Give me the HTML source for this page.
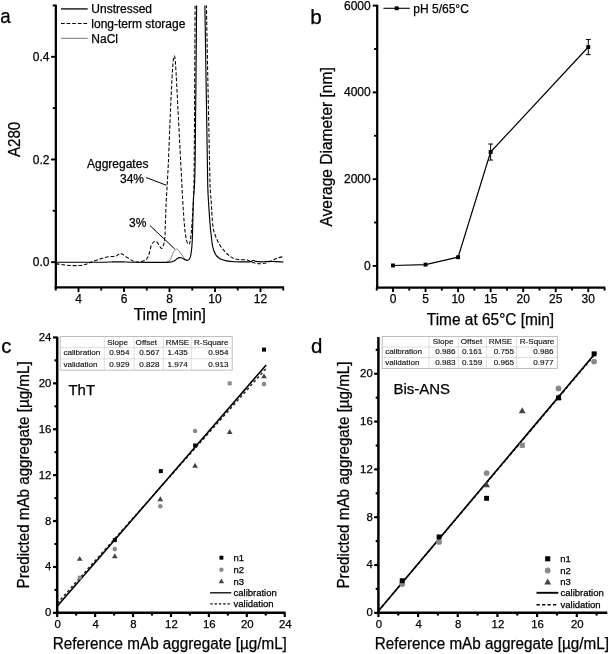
<!DOCTYPE html>
<html lang="en"><head><meta charset="utf-8"><title>Figure</title>
<style>html,body{margin:0;padding:0;background:#fff;}svg{display:block;font-family:'Liberation Sans', Arial, sans-serif;}</style>
</head><body>
<svg width="609" height="654" viewBox="0 0 609 654">
<rect width="609" height="654" fill="#fff"/>
<g id="panel-a">
<clipPath id="clipa"><rect x="55.85" y="5.6" width="230.15" height="282.6"/></clipPath>
<text x="0.3" y="23.3" font-size="20.5" text-anchor="start" fill="#000" stroke="#000" stroke-width="0.25" textLength="10.4" lengthAdjust="spacingAndGlyphs">a</text>
<path d="M56.0,263.7 C57.2,263.9 60.3,264.5 63.0,264.8 C65.7,265.1 69.2,265.5 72.0,265.6 C74.8,265.7 77.7,265.6 80.0,265.4 C82.3,265.2 84.2,264.8 86.0,264.3 C87.8,263.8 89.2,262.9 91.0,262.2 C92.8,261.5 94.8,260.7 97.0,260.0 C99.2,259.3 101.8,258.4 104.0,257.8 C106.2,257.2 108.2,256.8 110.0,256.6 C111.8,256.4 113.7,256.7 115.0,256.4 C116.3,256.1 117.1,255.3 118.0,254.8 C118.9,254.3 119.5,253.4 120.3,253.4 C121.1,253.4 121.7,253.8 123.0,254.6 C124.3,255.4 126.3,256.9 128.0,258.0 C129.7,259.1 131.5,260.3 133.0,261.0 C134.5,261.7 135.7,261.9 137.0,262.0 C138.3,262.1 139.7,261.9 141.0,261.6 C142.3,261.3 143.9,260.9 145.0,260.3 C146.1,259.7 146.8,259.1 147.5,257.8 C148.2,256.5 148.9,254.5 149.5,252.5 C150.1,250.5 150.5,247.7 151.1,246.0 C151.7,244.3 152.3,243.3 153.0,242.5 C153.7,241.7 154.2,241.4 155.0,241.4 C155.8,241.4 156.8,241.8 157.5,242.6 C158.2,243.4 158.8,245.0 159.5,246.0 C160.2,247.0 160.9,248.4 161.5,248.4 C162.1,248.4 162.6,247.8 163.2,246.0 C163.8,244.2 164.4,242.1 164.8,237.8 C165.2,233.5 165.2,226.3 165.5,220.0 C165.8,213.7 165.8,209.3 166.3,200.0 C166.8,190.7 167.6,179.0 168.3,164.0 C169.0,149.0 169.8,125.7 170.5,110.0 C171.2,94.3 171.9,78.9 172.5,70.0 C173.1,61.1 173.5,57.4 174.0,56.4 C174.5,55.4 174.8,55.1 175.5,64.0 C176.2,72.9 177.1,93.3 178.0,110.0 C178.9,126.7 180.0,149.0 180.8,164.0 C181.6,179.0 182.1,189.7 182.7,200.0 C183.3,210.3 183.9,219.3 184.5,226.0 C185.1,232.7 185.8,236.9 186.5,240.0 C187.2,243.1 187.8,244.0 188.4,244.3 C189.0,244.6 189.5,244.4 190.0,242.0 C190.5,239.6 190.9,237.0 191.5,230.0 C192.1,223.0 193.0,211.0 193.4,200.0 C193.8,189.0 193.9,196.5 194.2,164.0 C194.5,131.5 194.9,39.0 195.1,5.0 C195.3,-29.0 195.5,-32.5 195.6,-40.0" fill="none" stroke="#000" stroke-width="1.05" stroke-dasharray="3.7 1.9" clip-path="url(#clipa)"/>
<path d="M206.0,-40.0 C206.1,-32.5 205.8,-29.0 206.4,5.0 C207.0,39.0 208.9,133.2 209.6,164.0 C210.2,194.8 210.0,183.7 210.3,190.0 C210.6,196.3 210.8,195.5 211.2,201.6 C211.6,207.7 212.1,220.5 213.0,226.7 C213.9,232.9 215.4,235.7 216.7,238.9 C217.9,242.1 219.2,244.0 220.5,246.0 C221.8,248.0 223.2,249.5 224.6,251.1 C226.0,252.7 227.5,254.3 229.0,255.5 C230.5,256.7 232.0,257.8 233.8,258.5 C235.6,259.2 237.8,259.4 240.0,259.6 C242.2,259.8 245.1,259.5 247.2,259.9 C249.2,260.3 250.4,261.6 252.3,262.2 C254.2,262.8 256.2,263.6 258.5,263.7 C260.8,263.8 263.7,263.5 266.0,263.0 C268.3,262.5 270.4,261.3 272.3,260.5 C274.2,259.7 275.6,258.6 277.3,258.0 C279.1,257.4 281.9,256.9 282.8,256.7" fill="none" stroke="#000" stroke-width="1.05" stroke-dasharray="3.7 1.9" clip-path="url(#clipa)"/>
<path d="M167.0,261.6 C167.4,261.4 168.8,261.3 169.6,260.5 C170.3,259.7 170.8,258.4 171.5,257.0 C172.2,255.6 172.7,253.3 173.5,252.0 C174.3,250.7 175.6,249.2 176.5,249.0 C177.4,248.8 178.2,250.1 179.0,251.0 C179.8,251.9 180.6,253.3 181.5,254.5 C182.4,255.7 183.5,257.4 184.3,258.3 C185.1,259.2 186.1,259.7 186.5,260.0" fill="none" stroke="#555" stroke-width="0.7"/>
<path d="M56.0,262.2 C63.3,262.2 90.7,262.2 100.0,262.2 C109.3,262.1 108.3,261.9 112.0,261.9 C115.7,261.8 118.2,261.8 122.0,261.9 C125.8,262.0 128.7,262.2 135.0,262.3 C141.3,262.4 154.2,262.4 160.0,262.4 C165.8,262.4 167.7,262.3 170.0,262.1 C172.3,261.9 172.8,261.6 174.0,261.0 C175.2,260.4 176.1,259.4 177.0,258.8 C177.9,258.2 178.6,257.7 179.4,257.6 C180.2,257.5 181.1,257.7 182.0,258.0 C182.9,258.3 184.1,259.2 185.0,259.6 C185.9,260.0 186.8,260.4 187.6,260.3 C188.3,260.2 188.9,260.1 189.5,259.0 C190.1,257.9 190.5,257.2 191.0,254.0 C191.5,250.8 191.9,249.0 192.3,240.0 C192.7,231.0 192.9,212.7 193.4,200.0 C193.9,187.3 194.6,196.5 195.1,164.0 C195.6,131.5 196.3,39.0 196.6,5.0 C196.9,-29.0 196.9,-32.5 197.0,-40.0" fill="none" stroke="#000" stroke-width="1.15" clip-path="url(#clipa)"/>
<path d="M204.5,-40.0 C204.6,-32.5 204.4,-29.0 204.9,5.0 C205.4,39.0 206.9,133.2 207.4,164.0 C207.9,194.8 207.6,181.7 207.9,190.0 C208.2,198.3 208.9,207.9 209.3,214.0 C209.7,220.1 209.8,221.5 210.3,226.7 C210.8,231.9 211.8,240.9 212.4,245.0 C213.1,249.1 213.5,249.7 214.2,251.5 C214.9,253.3 215.6,254.8 216.7,256.0 C217.8,257.2 218.9,258.2 220.5,259.0 C222.1,259.8 224.1,260.4 226.5,260.9 C228.9,261.4 231.6,261.6 234.7,261.8 C237.8,262.0 242.3,261.9 245.0,261.9 C247.7,261.9 249.6,261.9 251.0,261.6 C252.4,261.3 252.5,260.2 253.3,260.2 C254.1,260.2 254.6,261.1 256.0,261.4 C257.4,261.7 259.7,261.8 262.0,261.8 C264.3,261.8 267.5,261.3 269.8,261.3 C272.1,261.3 273.7,261.5 276.0,261.6 C278.3,261.7 282.3,261.9 283.6,262.0" fill="none" stroke="#000" stroke-width="1.15" clip-path="url(#clipa)"/>
<line x1="146.00" y1="177.50" x2="166.50" y2="185.30" stroke="#000" stroke-width="1.0"/>
<line x1="149.90" y1="225.50" x2="174.80" y2="249.00" stroke="#000" stroke-width="1.0"/>
<text x="87" y="168" font-size="12" text-anchor="start" fill="#000" stroke="#000" stroke-width="0.25">Aggregates</text>
<text x="120" y="182.8" font-size="12" text-anchor="start" fill="#000" stroke="#000" stroke-width="0.25">34%</text>
<text x="129" y="226.5" font-size="12" text-anchor="start" fill="#000" stroke="#000" stroke-width="0.25">3%</text>
<line x1="55.85" y1="4.70" x2="55.85" y2="288.40" stroke="#000" stroke-width="2.25"/>
<line x1="54.75" y1="287.30" x2="284.00" y2="287.30" stroke="#000" stroke-width="2.25"/>
<line x1="55.75" y1="287.30" x2="55.75" y2="290.50" stroke="#000" stroke-width="1.9"/>
<line x1="78.50" y1="287.30" x2="78.50" y2="292.10" stroke="#000" stroke-width="1.9"/>
<text x="78.5" y="303" font-size="12" text-anchor="middle" fill="#000" stroke="#000" stroke-width="0.25">4</text>
<line x1="101.25" y1="287.30" x2="101.25" y2="290.50" stroke="#000" stroke-width="1.9"/>
<line x1="124.00" y1="287.30" x2="124.00" y2="292.10" stroke="#000" stroke-width="1.9"/>
<text x="124.0" y="303" font-size="12" text-anchor="middle" fill="#000" stroke="#000" stroke-width="0.25">6</text>
<line x1="146.75" y1="287.30" x2="146.75" y2="290.50" stroke="#000" stroke-width="1.9"/>
<line x1="169.50" y1="287.30" x2="169.50" y2="292.10" stroke="#000" stroke-width="1.9"/>
<text x="169.5" y="303" font-size="12" text-anchor="middle" fill="#000" stroke="#000" stroke-width="0.25">8</text>
<line x1="192.25" y1="287.30" x2="192.25" y2="290.50" stroke="#000" stroke-width="1.9"/>
<line x1="215.00" y1="287.30" x2="215.00" y2="292.10" stroke="#000" stroke-width="1.9"/>
<text x="215.0" y="303" font-size="12" text-anchor="middle" fill="#000" stroke="#000" stroke-width="0.25">10</text>
<line x1="237.75" y1="287.30" x2="237.75" y2="290.50" stroke="#000" stroke-width="1.9"/>
<line x1="260.50" y1="287.30" x2="260.50" y2="292.10" stroke="#000" stroke-width="1.9"/>
<text x="260.5" y="303" font-size="12" text-anchor="middle" fill="#000" stroke="#000" stroke-width="0.25">12</text>
<line x1="283.25" y1="287.30" x2="283.25" y2="290.50" stroke="#000" stroke-width="1.9"/>
<line x1="51.05" y1="262.15" x2="55.85" y2="262.15" stroke="#000" stroke-width="1.9"/>
<text x="49.45" y="266.25" font-size="12" text-anchor="end" fill="#000" stroke="#000" stroke-width="0.25">0.0</text>
<line x1="52.75" y1="210.81" x2="55.85" y2="210.81" stroke="#000" stroke-width="1.9"/>
<line x1="51.05" y1="159.47" x2="55.85" y2="159.47" stroke="#000" stroke-width="1.9"/>
<text x="49.45" y="163.56999999999996" font-size="12" text-anchor="end" fill="#000" stroke="#000" stroke-width="0.25">0.2</text>
<line x1="52.75" y1="108.13" x2="55.85" y2="108.13" stroke="#000" stroke-width="1.9"/>
<line x1="51.05" y1="56.79" x2="55.85" y2="56.79" stroke="#000" stroke-width="1.9"/>
<text x="49.45" y="60.889999999999965" font-size="12" text-anchor="end" fill="#000" stroke="#000" stroke-width="0.25">0.4</text>
<line x1="52.75" y1="5.45" x2="55.85" y2="5.45" stroke="#000" stroke-width="1.9"/>
<text x="20.2" y="139.4" font-size="16" text-anchor="middle" fill="#000" stroke="#000" stroke-width="0.25" transform="rotate(-90 20.2 139.4)" textLength="35.4" lengthAdjust="spacingAndGlyphs">A280</text>
<text x="169.8" y="319.6" font-size="16" text-anchor="middle" fill="#000" stroke="#000" stroke-width="0.25" textLength="72.3" lengthAdjust="spacingAndGlyphs">Time [min]</text>
<line x1="61.00" y1="8.90" x2="87.70" y2="8.90" stroke="#333" stroke-width="1.6"/>
<line x1="61.00" y1="23.50" x2="87.70" y2="23.50" stroke="#000" stroke-width="1.2" stroke-dasharray="3.7 1.9"/>
<line x1="61.00" y1="38.30" x2="87.70" y2="38.30" stroke="#777" stroke-width="1.0"/>
<text x="91.3" y="13" font-size="12" text-anchor="start" fill="#000" stroke="#000" stroke-width="0.25">Unstressed</text>
<text x="91.3" y="28" font-size="12" text-anchor="start" fill="#000" stroke="#000" stroke-width="0.25">long-term storage</text>
<text x="91.3" y="42.5" font-size="12" text-anchor="start" fill="#000" stroke="#000" stroke-width="0.25">NaCl</text>
</g>
<g id="panel-b">
<text x="310.3" y="23.5" font-size="20.7" text-anchor="start" fill="#000" stroke="#000" stroke-width="0.25">b</text>
<polyline points="393.0,265.5 425.6,264.6 458.1,257.2 490.6,152.0 588.3,47.0" fill="none" stroke="#000" stroke-width="1.2" stroke-linejoin="round"/>
<line x1="490.65" y1="160.05" x2="490.65" y2="144.00" stroke="#000" stroke-width="1.0"/>
<line x1="488.25" y1="160.05" x2="493.05" y2="160.05" stroke="#000" stroke-width="1.0"/>
<line x1="488.25" y1="144.00" x2="493.05" y2="144.00" stroke="#000" stroke-width="1.0"/>
<line x1="588.30" y1="54.64" x2="588.30" y2="39.46" stroke="#000" stroke-width="1.0"/>
<line x1="585.90" y1="54.64" x2="590.70" y2="54.64" stroke="#000" stroke-width="1.0"/>
<line x1="585.90" y1="39.46" x2="590.70" y2="39.46" stroke="#000" stroke-width="1.0"/>
<rect x="391.05" y="263.52" width="3.9" height="3.9" fill="#000"/>
<rect x="423.60" y="262.65" width="3.9" height="3.9" fill="#000"/>
<rect x="456.15" y="255.27" width="3.9" height="3.9" fill="#000"/>
<rect x="488.70" y="150.08" width="3.9" height="3.9" fill="#000"/>
<rect x="586.35" y="45.10" width="3.9" height="3.9" fill="#000"/>
<line x1="377.20" y1="4.70" x2="377.20" y2="288.60" stroke="#000" stroke-width="2.25"/>
<line x1="376.10" y1="287.50" x2="605.20" y2="287.50" stroke="#000" stroke-width="2.25"/>
<line x1="376.73" y1="287.50" x2="376.73" y2="290.60" stroke="#000" stroke-width="1.9"/>
<line x1="393.00" y1="287.50" x2="393.00" y2="292.10" stroke="#000" stroke-width="1.9"/>
<text x="393.0" y="303.0" font-size="12" text-anchor="middle" fill="#000" stroke="#000" stroke-width="0.25">0</text>
<line x1="409.27" y1="287.50" x2="409.27" y2="290.60" stroke="#000" stroke-width="1.9"/>
<line x1="425.55" y1="287.50" x2="425.55" y2="292.10" stroke="#000" stroke-width="1.9"/>
<text x="425.55" y="303.0" font-size="12" text-anchor="middle" fill="#000" stroke="#000" stroke-width="0.25">5</text>
<line x1="441.82" y1="287.50" x2="441.82" y2="290.60" stroke="#000" stroke-width="1.9"/>
<line x1="458.10" y1="287.50" x2="458.10" y2="292.10" stroke="#000" stroke-width="1.9"/>
<text x="458.1" y="303.0" font-size="12" text-anchor="middle" fill="#000" stroke="#000" stroke-width="0.25">10</text>
<line x1="474.38" y1="287.50" x2="474.38" y2="290.60" stroke="#000" stroke-width="1.9"/>
<line x1="490.65" y1="287.50" x2="490.65" y2="292.10" stroke="#000" stroke-width="1.9"/>
<text x="490.65" y="303.0" font-size="12" text-anchor="middle" fill="#000" stroke="#000" stroke-width="0.25">15</text>
<line x1="506.93" y1="287.50" x2="506.93" y2="290.60" stroke="#000" stroke-width="1.9"/>
<line x1="523.20" y1="287.50" x2="523.20" y2="292.10" stroke="#000" stroke-width="1.9"/>
<text x="523.2" y="303.0" font-size="12" text-anchor="middle" fill="#000" stroke="#000" stroke-width="0.25">20</text>
<line x1="539.48" y1="287.50" x2="539.48" y2="290.60" stroke="#000" stroke-width="1.9"/>
<line x1="555.75" y1="287.50" x2="555.75" y2="292.10" stroke="#000" stroke-width="1.9"/>
<text x="555.75" y="303.0" font-size="12" text-anchor="middle" fill="#000" stroke="#000" stroke-width="0.25">25</text>
<line x1="572.02" y1="287.50" x2="572.02" y2="290.60" stroke="#000" stroke-width="1.9"/>
<line x1="588.30" y1="287.50" x2="588.30" y2="292.10" stroke="#000" stroke-width="1.9"/>
<text x="588.3" y="303.0" font-size="12" text-anchor="middle" fill="#000" stroke="#000" stroke-width="0.25">30</text>
<line x1="604.58" y1="287.50" x2="604.58" y2="290.60" stroke="#000" stroke-width="1.9"/>
<line x1="372.70" y1="265.90" x2="377.20" y2="265.90" stroke="#000" stroke-width="1.9"/>
<text x="370.7" y="269.79999999999995" font-size="12" text-anchor="end" fill="#000" stroke="#000" stroke-width="0.25">0</text>
<line x1="374.10" y1="222.52" x2="377.20" y2="222.52" stroke="#000" stroke-width="1.9"/>
<line x1="372.70" y1="179.14" x2="377.20" y2="179.14" stroke="#000" stroke-width="1.9"/>
<text x="370.7" y="183.04" font-size="12" text-anchor="end" fill="#000" stroke="#000" stroke-width="0.25">2000</text>
<line x1="374.10" y1="135.76" x2="377.20" y2="135.76" stroke="#000" stroke-width="1.9"/>
<line x1="372.70" y1="92.38" x2="377.20" y2="92.38" stroke="#000" stroke-width="1.9"/>
<text x="370.7" y="96.27999999999997" font-size="12" text-anchor="end" fill="#000" stroke="#000" stroke-width="0.25">4000</text>
<line x1="374.10" y1="49.00" x2="377.20" y2="49.00" stroke="#000" stroke-width="1.9"/>
<line x1="372.70" y1="5.62" x2="377.20" y2="5.62" stroke="#000" stroke-width="1.9"/>
<text x="370.7" y="9.519999999999948" font-size="12" text-anchor="end" fill="#000" stroke="#000" stroke-width="0.25">6000</text>
<text x="332.2" y="146.9" font-size="16" text-anchor="middle" fill="#000" stroke="#000" stroke-width="0.25" transform="rotate(-90 332.2 146.9)" textLength="159.2" lengthAdjust="spacingAndGlyphs">Average Diameter [nm]</text>
<text x="490.5" y="324.7" font-size="16" text-anchor="middle" fill="#000" stroke="#000" stroke-width="0.25" textLength="127.3" lengthAdjust="spacingAndGlyphs">Time at 65°C [min]</text>
<line x1="383.40" y1="8.30" x2="409.80" y2="8.30" stroke="#000" stroke-width="1.1"/>
<rect x="394.75" y="6.35" width="3.9" height="3.9" fill="#000"/>
<text x="413.3" y="12.5" font-size="12" text-anchor="start" fill="#000" stroke="#000" stroke-width="0.25">pH 5/65°C</text>
</g>
<g id="panel-c">
<text x="1.3" y="353.1" font-size="20.3" text-anchor="start" fill="#000" stroke="#000" stroke-width="0.25">c</text>
<rect x="60.2" y="336.5" width="172.0" height="33.60000000000002" fill="#fff" stroke="#b0b0b0" stroke-width="0.8"/>
<line x1="60.20" y1="347.60" x2="232.20" y2="347.60" stroke="#c8c8c8" stroke-width="0.6"/>
<line x1="60.20" y1="358.80" x2="232.20" y2="358.80" stroke="#c8c8c8" stroke-width="0.6"/>
<line x1="104.30" y1="336.50" x2="104.30" y2="370.10" stroke="#c8c8c8" stroke-width="0.6"/>
<line x1="134.10" y1="336.50" x2="134.10" y2="370.10" stroke="#c8c8c8" stroke-width="0.6"/>
<line x1="163.30" y1="336.50" x2="163.30" y2="370.10" stroke="#c8c8c8" stroke-width="0.6"/>
<line x1="191.30" y1="336.50" x2="191.30" y2="370.10" stroke="#c8c8c8" stroke-width="0.6"/>
<text x="107.3" y="345" font-size="8.1" text-anchor="start" fill="#111" stroke="#111" stroke-width="0.15">Slope</text>
<text x="135.6" y="345" font-size="8.1" text-anchor="start" fill="#111" stroke="#111" stroke-width="0.15">Offset</text>
<text x="165.8" y="345" font-size="8.1" text-anchor="start" fill="#111" stroke="#111" stroke-width="0.15">RMSE</text>
<text x="193.9" y="345" font-size="8.1" text-anchor="start" fill="#111" stroke="#111" stroke-width="0.15">R-Square</text>
<text x="63.4" y="355.1" font-size="8.1" text-anchor="start" fill="#111" stroke="#111" stroke-width="0.15">calibration</text>
<text x="63.4" y="366.6" font-size="8.1" text-anchor="start" fill="#111" stroke="#111" stroke-width="0.15">validation</text>
<text x="129.6" y="355.1" font-size="8.1" text-anchor="end" fill="#111" stroke="#111" stroke-width="0.15">0.954</text>
<text x="159.5" y="355.1" font-size="8.1" text-anchor="end" fill="#111" stroke="#111" stroke-width="0.15">0.567</text>
<text x="187.8" y="355.1" font-size="8.1" text-anchor="end" fill="#111" stroke="#111" stroke-width="0.15">1.435</text>
<text x="228.6" y="355.1" font-size="8.1" text-anchor="end" fill="#111" stroke="#111" stroke-width="0.15">0.954</text>
<text x="129.6" y="366.6" font-size="8.1" text-anchor="end" fill="#111" stroke="#111" stroke-width="0.15">0.929</text>
<text x="159.5" y="366.6" font-size="8.1" text-anchor="end" fill="#111" stroke="#111" stroke-width="0.15">0.828</text>
<text x="187.8" y="366.6" font-size="8.1" text-anchor="end" fill="#111" stroke="#111" stroke-width="0.15">1.974</text>
<text x="228.6" y="366.6" font-size="8.1" text-anchor="end" fill="#111" stroke="#111" stroke-width="0.15">0.913</text>
<text x="68.4" y="394.7" font-size="15" text-anchor="start" fill="#000" stroke="#000" stroke-width="0.25">ThT</text>
<line x1="57.20" y1="603.35" x2="265.76" y2="368.82" stroke="#222" stroke-width="1.4" stroke-dasharray="2.7 2.4"/>
<line x1="57.20" y1="606.34" x2="266.23" y2="364.96" stroke="#000" stroke-width="1.6"/>
<rect x="227.70" y="381.40" width="4" height="4" fill="#8a8a8a"/>
<rect x="77.70" y="575.70" width="4" height="4" fill="#8a8a8a"/>
<rect x="158.80" y="469.10" width="4.0" height="4.0" fill="#000"/>
<rect x="193.10" y="443.50" width="4.0" height="4.0" fill="#000"/>
<rect x="262.00" y="347.60" width="4.0" height="4.0" fill="#000"/>
<rect x="112.80" y="538.10" width="4.0" height="4.0" fill="#000"/>
<circle cx="195.10" cy="431.00" r="2.3" fill="#8a8a8a"/>
<circle cx="264.00" cy="384.10" r="2.3" fill="#8a8a8a"/>
<circle cx="114.80" cy="549.10" r="2.3" fill="#8a8a8a"/>
<circle cx="160.30" cy="506.30" r="2.3" fill="#8a8a8a"/>
<polygon points="192.25,467.77 197.95,467.77 195.10,462.83" fill="#444"/>
<polygon points="226.85,433.97 232.55,433.97 229.70,429.03" fill="#444"/>
<polygon points="261.15,378.37 266.85,378.37 264.00,373.43" fill="#444"/>
<polygon points="76.85,560.87 82.55,560.87 79.70,555.93" fill="#444"/>
<polygon points="111.95,558.17 117.65,558.17 114.80,553.23" fill="#444"/>
<polygon points="157.45,501.27 163.15,501.27 160.30,496.33" fill="#444"/>
<line x1="57.20" y1="336.80" x2="57.20" y2="614.10" stroke="#000" stroke-width="2.5"/>
<line x1="55.95" y1="612.85" x2="285.60" y2="612.85" stroke="#000" stroke-width="2.5"/>
<line x1="57.20" y1="612.85" x2="57.20" y2="617.05" stroke="#000" stroke-width="2.2"/>
<line x1="53.00" y1="612.85" x2="57.20" y2="612.85" stroke="#000" stroke-width="2.2"/>
<text x="57.7" y="627.8" font-size="11.7" text-anchor="middle" fill="#000" stroke="#000" stroke-width="0.25" textLength="6.34" lengthAdjust="spacingAndGlyphs">0</text>
<text x="51.400000000000006" y="616.35" font-size="11.7" text-anchor="end" fill="#000" stroke="#000" stroke-width="0.25" textLength="6.34" lengthAdjust="spacingAndGlyphs">0</text>
<line x1="76.16" y1="612.85" x2="76.16" y2="615.55" stroke="#000" stroke-width="2.2"/>
<line x1="54.50" y1="589.90" x2="57.20" y2="589.90" stroke="#000" stroke-width="2.2"/>
<line x1="95.12" y1="612.85" x2="95.12" y2="617.05" stroke="#000" stroke-width="2.2"/>
<line x1="53.00" y1="566.95" x2="57.20" y2="566.95" stroke="#000" stroke-width="2.2"/>
<text x="95.62" y="627.8" font-size="11.7" text-anchor="middle" fill="#000" stroke="#000" stroke-width="0.25" textLength="6.34" lengthAdjust="spacingAndGlyphs">4</text>
<text x="51.400000000000006" y="570.45" font-size="11.7" text-anchor="end" fill="#000" stroke="#000" stroke-width="0.25" textLength="6.34" lengthAdjust="spacingAndGlyphs">4</text>
<line x1="114.08" y1="612.85" x2="114.08" y2="615.55" stroke="#000" stroke-width="2.2"/>
<line x1="54.50" y1="544.00" x2="57.20" y2="544.00" stroke="#000" stroke-width="2.2"/>
<line x1="133.04" y1="612.85" x2="133.04" y2="617.05" stroke="#000" stroke-width="2.2"/>
<line x1="53.00" y1="521.05" x2="57.20" y2="521.05" stroke="#000" stroke-width="2.2"/>
<text x="133.54000000000002" y="627.8" font-size="11.7" text-anchor="middle" fill="#000" stroke="#000" stroke-width="0.25" textLength="6.34" lengthAdjust="spacingAndGlyphs">8</text>
<text x="51.400000000000006" y="524.5500000000001" font-size="11.7" text-anchor="end" fill="#000" stroke="#000" stroke-width="0.25" textLength="6.34" lengthAdjust="spacingAndGlyphs">8</text>
<line x1="152.00" y1="612.85" x2="152.00" y2="615.55" stroke="#000" stroke-width="2.2"/>
<line x1="54.50" y1="498.10" x2="57.20" y2="498.10" stroke="#000" stroke-width="2.2"/>
<line x1="170.96" y1="612.85" x2="170.96" y2="617.05" stroke="#000" stroke-width="2.2"/>
<line x1="53.00" y1="475.15" x2="57.20" y2="475.15" stroke="#000" stroke-width="2.2"/>
<text x="171.46" y="627.8" font-size="11.7" text-anchor="middle" fill="#000" stroke="#000" stroke-width="0.25" textLength="12.68" lengthAdjust="spacingAndGlyphs">12</text>
<text x="51.400000000000006" y="478.65000000000003" font-size="11.7" text-anchor="end" fill="#000" stroke="#000" stroke-width="0.25" textLength="12.68" lengthAdjust="spacingAndGlyphs">12</text>
<line x1="189.92" y1="612.85" x2="189.92" y2="615.55" stroke="#000" stroke-width="2.2"/>
<line x1="54.50" y1="452.20" x2="57.20" y2="452.20" stroke="#000" stroke-width="2.2"/>
<line x1="208.88" y1="612.85" x2="208.88" y2="617.05" stroke="#000" stroke-width="2.2"/>
<line x1="53.00" y1="429.25" x2="57.20" y2="429.25" stroke="#000" stroke-width="2.2"/>
<text x="209.38" y="627.8" font-size="11.7" text-anchor="middle" fill="#000" stroke="#000" stroke-width="0.25" textLength="12.68" lengthAdjust="spacingAndGlyphs">16</text>
<text x="51.400000000000006" y="432.75" font-size="11.7" text-anchor="end" fill="#000" stroke="#000" stroke-width="0.25" textLength="12.68" lengthAdjust="spacingAndGlyphs">16</text>
<line x1="227.84" y1="612.85" x2="227.84" y2="615.55" stroke="#000" stroke-width="2.2"/>
<line x1="54.50" y1="406.30" x2="57.20" y2="406.30" stroke="#000" stroke-width="2.2"/>
<line x1="246.80" y1="612.85" x2="246.80" y2="617.05" stroke="#000" stroke-width="2.2"/>
<line x1="53.00" y1="383.35" x2="57.20" y2="383.35" stroke="#000" stroke-width="2.2"/>
<text x="247.3" y="627.8" font-size="11.7" text-anchor="middle" fill="#000" stroke="#000" stroke-width="0.25" textLength="12.68" lengthAdjust="spacingAndGlyphs">20</text>
<text x="51.400000000000006" y="386.85" font-size="11.7" text-anchor="end" fill="#000" stroke="#000" stroke-width="0.25" textLength="12.68" lengthAdjust="spacingAndGlyphs">20</text>
<line x1="265.76" y1="612.85" x2="265.76" y2="615.55" stroke="#000" stroke-width="2.2"/>
<line x1="54.50" y1="360.40" x2="57.20" y2="360.40" stroke="#000" stroke-width="2.2"/>
<line x1="284.72" y1="612.85" x2="284.72" y2="617.05" stroke="#000" stroke-width="2.2"/>
<line x1="53.00" y1="337.45" x2="57.20" y2="337.45" stroke="#000" stroke-width="2.2"/>
<text x="285.22" y="627.8" font-size="11.7" text-anchor="middle" fill="#000" stroke="#000" stroke-width="0.25" textLength="12.68" lengthAdjust="spacingAndGlyphs">24</text>
<text x="51.400000000000006" y="340.95000000000005" font-size="11.7" text-anchor="end" fill="#000" stroke="#000" stroke-width="0.25" textLength="12.68" lengthAdjust="spacingAndGlyphs">24</text>
<text x="28.8" y="474.9" font-size="16" text-anchor="middle" fill="#000" stroke="#000" stroke-width="0.25" transform="rotate(-90 28.8 474.9)" textLength="227.0" lengthAdjust="spacingAndGlyphs">Predicted mAb aggregate [µg/mL]</text>
<text x="169.8" y="649" font-size="16" text-anchor="middle" fill="#000" stroke="#000" stroke-width="0.25" textLength="234.1" lengthAdjust="spacingAndGlyphs">Reference mAb aggregate [µg/mL]</text>
<rect x="219.45" y="555.75" width="3.9" height="3.9" fill="#000"/>
<circle cx="221.40" cy="569.70" r="2.2" fill="#8a8a8a"/>
<polygon points="218.70,583.24 224.10,583.24 221.40,578.56" fill="#444"/>
<text x="233.5" y="561" font-size="9.5" text-anchor="start" fill="#000" stroke="#000" stroke-width="0.25">n1</text>
<text x="233.5" y="573" font-size="9.5" text-anchor="start" fill="#000" stroke="#000" stroke-width="0.25">n2</text>
<text x="233.5" y="584.5" font-size="9.5" text-anchor="start" fill="#000" stroke="#000" stroke-width="0.25">n3</text>
<line x1="210.10" y1="592.80" x2="231.30" y2="592.80" stroke="#000" stroke-width="1.3"/>
<line x1="210.30" y1="603.90" x2="231.30" y2="603.90" stroke="#111" stroke-width="1.4" stroke-dasharray="2.4 1.9"/>
<text x="233.5" y="596" font-size="9.5" text-anchor="start" fill="#000" stroke="#000" stroke-width="0.25">calibration</text>
<text x="233.5" y="607.2" font-size="9.5" text-anchor="start" fill="#000" stroke="#000" stroke-width="0.25">validation</text>
</g>
<g id="panel-d">
<text x="311.0" y="353.0" font-size="20.5" text-anchor="start" fill="#000" stroke="#000" stroke-width="0.25">d</text>
<rect x="382.2" y="336.5" width="175.09999999999997" height="31.899999999999977" fill="#fff" stroke="#b0b0b0" stroke-width="0.8"/>
<line x1="382.20" y1="347.00" x2="557.30" y2="347.00" stroke="#c8c8c8" stroke-width="0.6"/>
<line x1="382.20" y1="357.60" x2="557.30" y2="357.60" stroke="#c8c8c8" stroke-width="0.6"/>
<line x1="429.10" y1="336.50" x2="429.10" y2="368.40" stroke="#c8c8c8" stroke-width="0.6"/>
<line x1="458.30" y1="336.50" x2="458.30" y2="368.40" stroke="#c8c8c8" stroke-width="0.6"/>
<line x1="486.30" y1="336.50" x2="486.30" y2="368.40" stroke="#c8c8c8" stroke-width="0.6"/>
<line x1="516.60" y1="336.50" x2="516.60" y2="368.40" stroke="#c8c8c8" stroke-width="0.6"/>
<text x="432.8" y="344.0" font-size="8.1" text-anchor="start" fill="#111" stroke="#111" stroke-width="0.15">Slope</text>
<text x="460.8" y="344.0" font-size="8.1" text-anchor="start" fill="#111" stroke="#111" stroke-width="0.15">Offset</text>
<text x="488.8" y="344.0" font-size="8.1" text-anchor="start" fill="#111" stroke="#111" stroke-width="0.15">RMSE</text>
<text x="519.7" y="344.0" font-size="8.1" text-anchor="start" fill="#111" stroke="#111" stroke-width="0.15">R-Square</text>
<text x="385.2" y="354.0" font-size="8.1" text-anchor="start" fill="#111" stroke="#111" stroke-width="0.15">calibration</text>
<text x="385.2" y="364.6" font-size="8.1" text-anchor="start" fill="#111" stroke="#111" stroke-width="0.15">validation</text>
<text x="455.4" y="354.0" font-size="8.1" text-anchor="end" fill="#111" stroke="#111" stroke-width="0.15">0.986</text>
<text x="482.3" y="354.0" font-size="8.1" text-anchor="end" fill="#111" stroke="#111" stroke-width="0.15">0.161</text>
<text x="514.1" y="354.0" font-size="8.1" text-anchor="end" fill="#111" stroke="#111" stroke-width="0.15">0.755</text>
<text x="553.5" y="354.0" font-size="8.1" text-anchor="end" fill="#111" stroke="#111" stroke-width="0.15">0.986</text>
<text x="455.4" y="364.6" font-size="8.1" text-anchor="end" fill="#111" stroke="#111" stroke-width="0.15">0.983</text>
<text x="482.3" y="364.6" font-size="8.1" text-anchor="end" fill="#111" stroke="#111" stroke-width="0.15">0.159</text>
<text x="514.1" y="364.6" font-size="8.1" text-anchor="end" fill="#111" stroke="#111" stroke-width="0.15">0.965</text>
<text x="553.5" y="364.6" font-size="8.1" text-anchor="end" fill="#111" stroke="#111" stroke-width="0.15">0.977</text>
<text x="393.4" y="394.1" font-size="15" text-anchor="start" fill="#000" stroke="#000" stroke-width="0.25">Bis-ANS</text>
<line x1="378.40" y1="610.95" x2="596.14" y2="353.00" stroke="#222" stroke-width="1.4" stroke-dasharray="2.7 2.4"/>
<line x1="378.40" y1="610.93" x2="596.14" y2="352.19" stroke="#000" stroke-width="1.7"/>
<circle cx="594.10" cy="361.60" r="2.9" fill="#8a8a8a"/>
<circle cx="558.50" cy="388.40" r="2.9" fill="#8a8a8a"/>
<circle cx="486.60" cy="473.10" r="2.9" fill="#8a8a8a"/>
<circle cx="439.10" cy="541.90" r="2.9" fill="#8a8a8a"/>
<circle cx="402.20" cy="584.00" r="2.9" fill="#8a8a8a"/>
<polygon points="518.80,413.14 525.60,413.14 522.20,407.26" fill="#444"/>
<polygon points="483.20,487.34 490.00,487.34 486.60,481.46" fill="#444"/>
<polygon points="555.10,399.94 561.90,399.94 558.50,394.06" fill="#444"/>
<rect x="519.60" y="442.70" width="5.2" height="5.2" fill="#8a8a8a"/>
<rect x="591.65" y="351.35" width="4.9" height="4.9" fill="#000"/>
<rect x="556.05" y="395.45" width="4.9" height="4.9" fill="#000"/>
<rect x="436.65" y="534.45" width="4.9" height="4.9" fill="#000"/>
<rect x="399.75" y="578.25" width="4.9" height="4.9" fill="#000"/>
<rect x="484.15" y="495.85" width="4.9" height="4.9" fill="#000"/>
<line x1="378.40" y1="337.00" x2="378.40" y2="614.10" stroke="#000" stroke-width="2.5"/>
<line x1="377.15" y1="612.85" x2="607.30" y2="612.85" stroke="#000" stroke-width="2.5"/>
<line x1="378.40" y1="612.85" x2="378.40" y2="617.05" stroke="#000" stroke-width="2.2"/>
<line x1="374.20" y1="612.85" x2="378.40" y2="612.85" stroke="#000" stroke-width="2.2"/>
<text x="378.9" y="627.8" font-size="11.7" text-anchor="middle" fill="#000" stroke="#000" stroke-width="0.25" textLength="6.34" lengthAdjust="spacingAndGlyphs">0</text>
<text x="372.79999999999995" y="616.25" font-size="11.7" text-anchor="end" fill="#000" stroke="#000" stroke-width="0.25" textLength="6.34" lengthAdjust="spacingAndGlyphs">0</text>
<line x1="398.24" y1="612.85" x2="398.24" y2="615.55" stroke="#000" stroke-width="2.2"/>
<line x1="375.70" y1="588.94" x2="378.40" y2="588.94" stroke="#000" stroke-width="2.2"/>
<line x1="418.08" y1="612.85" x2="418.08" y2="617.05" stroke="#000" stroke-width="2.2"/>
<line x1="374.20" y1="565.03" x2="378.40" y2="565.03" stroke="#000" stroke-width="2.2"/>
<text x="418.58" y="627.8" font-size="11.7" text-anchor="middle" fill="#000" stroke="#000" stroke-width="0.25" textLength="6.34" lengthAdjust="spacingAndGlyphs">4</text>
<text x="372.79999999999995" y="568.43" font-size="11.7" text-anchor="end" fill="#000" stroke="#000" stroke-width="0.25" textLength="6.34" lengthAdjust="spacingAndGlyphs">4</text>
<line x1="437.92" y1="612.85" x2="437.92" y2="615.55" stroke="#000" stroke-width="2.2"/>
<line x1="375.70" y1="541.12" x2="378.40" y2="541.12" stroke="#000" stroke-width="2.2"/>
<line x1="457.76" y1="612.85" x2="457.76" y2="617.05" stroke="#000" stroke-width="2.2"/>
<line x1="374.20" y1="517.21" x2="378.40" y2="517.21" stroke="#000" stroke-width="2.2"/>
<text x="458.26" y="627.8" font-size="11.7" text-anchor="middle" fill="#000" stroke="#000" stroke-width="0.25" textLength="6.34" lengthAdjust="spacingAndGlyphs">8</text>
<text x="372.79999999999995" y="520.61" font-size="11.7" text-anchor="end" fill="#000" stroke="#000" stroke-width="0.25" textLength="6.34" lengthAdjust="spacingAndGlyphs">8</text>
<line x1="477.60" y1="612.85" x2="477.60" y2="615.55" stroke="#000" stroke-width="2.2"/>
<line x1="375.70" y1="493.30" x2="378.40" y2="493.30" stroke="#000" stroke-width="2.2"/>
<line x1="497.44" y1="612.85" x2="497.44" y2="617.05" stroke="#000" stroke-width="2.2"/>
<line x1="374.20" y1="469.39" x2="378.40" y2="469.39" stroke="#000" stroke-width="2.2"/>
<text x="497.93999999999994" y="627.8" font-size="11.7" text-anchor="middle" fill="#000" stroke="#000" stroke-width="0.25" textLength="12.68" lengthAdjust="spacingAndGlyphs">12</text>
<text x="372.79999999999995" y="472.78999999999996" font-size="11.7" text-anchor="end" fill="#000" stroke="#000" stroke-width="0.25" textLength="12.68" lengthAdjust="spacingAndGlyphs">12</text>
<line x1="517.28" y1="612.85" x2="517.28" y2="615.55" stroke="#000" stroke-width="2.2"/>
<line x1="375.70" y1="445.48" x2="378.40" y2="445.48" stroke="#000" stroke-width="2.2"/>
<line x1="537.12" y1="612.85" x2="537.12" y2="617.05" stroke="#000" stroke-width="2.2"/>
<line x1="374.20" y1="421.57" x2="378.40" y2="421.57" stroke="#000" stroke-width="2.2"/>
<text x="537.62" y="627.8" font-size="11.7" text-anchor="middle" fill="#000" stroke="#000" stroke-width="0.25" textLength="12.68" lengthAdjust="spacingAndGlyphs">16</text>
<text x="372.79999999999995" y="424.97" font-size="11.7" text-anchor="end" fill="#000" stroke="#000" stroke-width="0.25" textLength="12.68" lengthAdjust="spacingAndGlyphs">16</text>
<line x1="556.96" y1="612.85" x2="556.96" y2="615.55" stroke="#000" stroke-width="2.2"/>
<line x1="375.70" y1="397.66" x2="378.40" y2="397.66" stroke="#000" stroke-width="2.2"/>
<line x1="576.80" y1="612.85" x2="576.80" y2="617.05" stroke="#000" stroke-width="2.2"/>
<line x1="374.20" y1="373.75" x2="378.40" y2="373.75" stroke="#000" stroke-width="2.2"/>
<text x="577.3" y="627.8" font-size="11.7" text-anchor="middle" fill="#000" stroke="#000" stroke-width="0.25" textLength="12.68" lengthAdjust="spacingAndGlyphs">20</text>
<text x="372.79999999999995" y="377.15" font-size="11.7" text-anchor="end" fill="#000" stroke="#000" stroke-width="0.25" textLength="12.68" lengthAdjust="spacingAndGlyphs">20</text>
<line x1="596.64" y1="612.85" x2="596.64" y2="615.55" stroke="#000" stroke-width="2.2"/>
<line x1="375.70" y1="349.84" x2="378.40" y2="349.84" stroke="#000" stroke-width="2.2"/>
<text x="349.0" y="475.0" font-size="16" text-anchor="middle" fill="#000" stroke="#000" stroke-width="0.25" transform="rotate(-90 349.0 475.0)" textLength="227.0" lengthAdjust="spacingAndGlyphs">Predicted mAb aggregate [µg/mL]</text>
<text x="491.9" y="649" font-size="16" text-anchor="middle" fill="#000" stroke="#000" stroke-width="0.25" textLength="234.1" lengthAdjust="spacingAndGlyphs">Reference mAb aggregate [µg/mL]</text>
<rect x="545.15" y="556.25" width="5.1" height="5.1" fill="#000"/>
<circle cx="547.70" cy="570.50" r="2.9" fill="#8a8a8a"/>
<polygon points="544.30,584.44 551.10,584.44 547.70,578.56" fill="#444"/>
<text x="560.3" y="561.5" font-size="9.5" text-anchor="start" fill="#000" stroke="#000" stroke-width="0.25">n1</text>
<text x="560.3" y="573.5" font-size="9.5" text-anchor="start" fill="#000" stroke="#000" stroke-width="0.25">n2</text>
<text x="560.3" y="585" font-size="9.5" text-anchor="start" fill="#000" stroke="#000" stroke-width="0.25">n3</text>
<line x1="536.50" y1="592.80" x2="558.30" y2="592.80" stroke="#000" stroke-width="1.9"/>
<line x1="536.50" y1="604.80" x2="558.30" y2="604.80" stroke="#000" stroke-width="1.5" stroke-dasharray="3.3 2.2"/>
<text x="560.5" y="596" font-size="9.5" text-anchor="start" fill="#000" stroke="#000" stroke-width="0.25">calibration</text>
<text x="560.5" y="608" font-size="9.5" text-anchor="start" fill="#000" stroke="#000" stroke-width="0.25">validation</text>
</g>
</svg></body></html>
